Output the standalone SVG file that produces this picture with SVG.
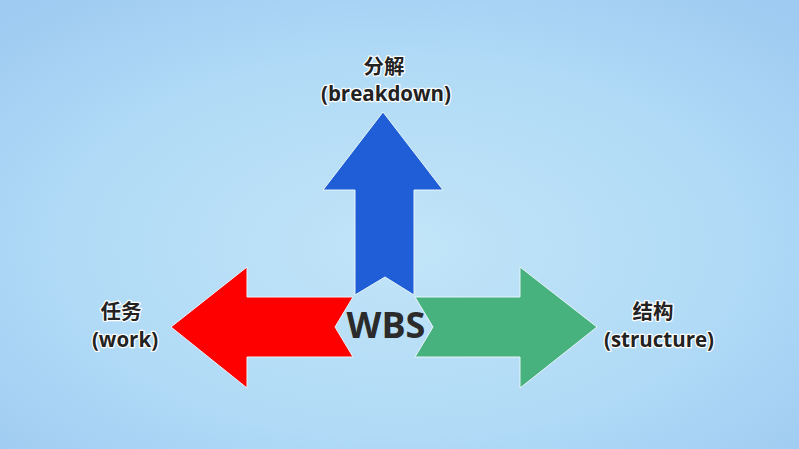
<svg xmlns="http://www.w3.org/2000/svg" width="799" height="449" viewBox="0 0 799 449">
<defs>
<radialGradient id="bg" cx="0.5" cy="0.55" r="0.7">
<stop offset="0" stop-color="#c2e5f8"/>
<stop offset="0.6" stop-color="#b0daf6"/>
<stop offset="1" stop-color="#9fcbf2"/>
</radialGradient>
</defs>
<style>
.arrow{stroke:#e8f4fc;stroke-width:1;stroke-linejoin:miter}
.lbl{font-family:"Open Sans","Noto Sans CJK SC",sans-serif;font-weight:bold;font-size:20.5px;fill:#222;text-anchor:middle;stroke:#ffffff;stroke-width:2.5px;paint-order:stroke;stroke-linejoin:round}
.wbs{font-family:"Open Sans","Noto Sans",sans-serif;font-weight:bold;font-size:36px;fill:#2b2b2b;text-anchor:middle}
</style>
<rect width="799" height="449" fill="url(#bg)"/>
<g id="connectors">
<polygon id="arrow-up" class="arrow" fill="#1f5ed6" points="383,112 443,190 414,190 414,295 385,277 355,295 355,190 323,190"/>
<polygon id="arrow-left" class="arrow" fill="#fe0000" points="171,327 247,267 247,297 353,297 335,327 353,357 247,357 247,388"/>
<polygon id="arrow-right" class="arrow" fill="#47b27d" points="597,327 520,267 520,297 415,297 433,327 415,357 520,357 520,388"/>
</g>
<g id="node-wbs">
<text class="wbs" x="386" y="338">WBS</text>
</g>
<g id="node-breakdown">
<text class="lbl" x="384" y="74">分解</text>
<text class="lbl" x="386" y="101">(breakdown)</text>
</g>
<g id="node-work">
<text class="lbl" x="121" y="319">任务</text>
<text class="lbl" x="125" y="347">(work)</text>
</g>
<g id="node-structure">
<text class="lbl" x="653" y="319">结构</text>
<text class="lbl" x="659" y="347">(structure)</text>
</g>
</svg>
